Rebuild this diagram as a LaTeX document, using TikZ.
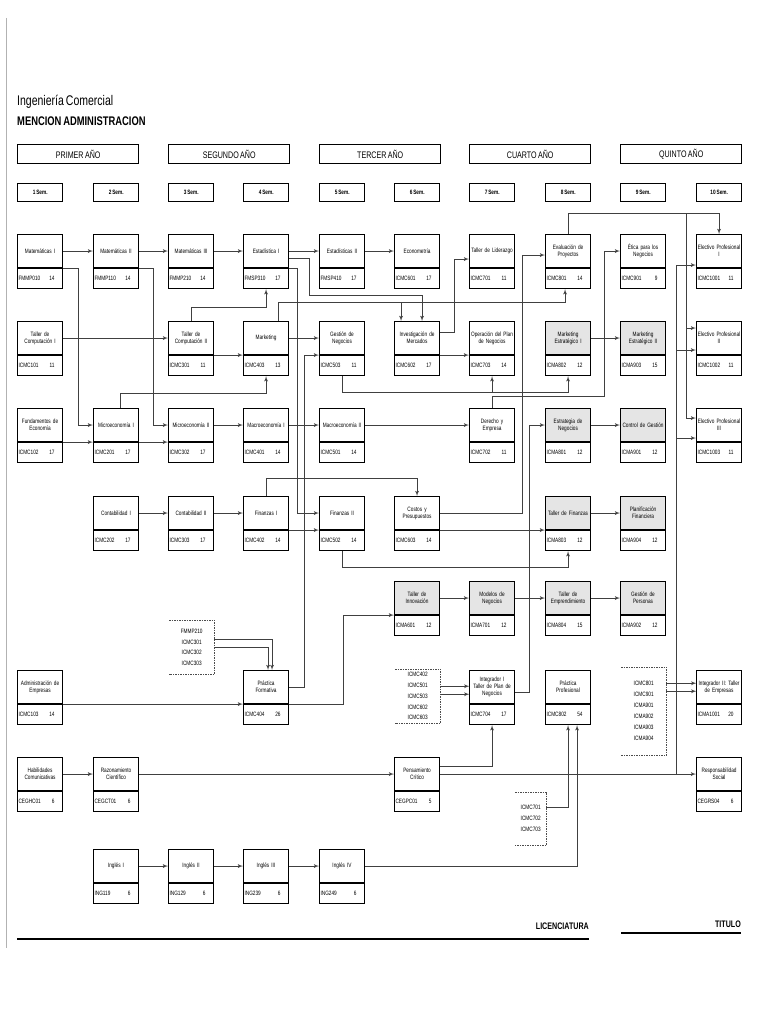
\documentclass[tikz,border=0pt]{standalone}
\usepackage{fontspec}
\setmainfont{Liberation Sans}
\newfontfamily\narrow[FakeStretch=0.75, WordSpace=0.7]{Liberation Sans}
\usepackage{tikz}
\usetikzlibrary{arrows, positioning}
\tikzstyle{ttl} = [rectangle, draw=black, line width=1.1pt, minimum width=45pt, minimum height=33pt, text width=43pt, inner sep=1pt, align=center, anchor=north west, font=\narrow\fontsize{6.3}{7.2}\selectfont]
\tikzstyle{cod} = [rectangle, draw=black, line width=1.1pt, minimum width=45pt, minimum height=20pt, inner sep=1pt, anchor=north, font=\narrow\fontsize{6.3}{7.2}\selectfont]
\tikzstyle{plist} = [rectangle, minimum width=45pt, minimum height=54pt, inner sep=1pt, align=center, anchor=north west, font=\narrow\fontsize{6.3}{10.5}\selectfont]
\tikzstyle{year} = [rectangle, draw=black, line width=1.4pt, minimum width=121pt, minimum height=19pt, inner sep=0pt, anchor=north west, font=\narrow\fontsize{9.5}{10}\selectfont]
\tikzstyle{sem} = [rectangle, draw=black, line width=1.4pt, minimum width=45pt, minimum height=18pt, inner sep=0pt, anchor=north west, font=\narrow\bfseries\fontsize{6.3}{7}\selectfont]
\tikzstyle{line} = [draw, -latex', black!75, line width=0.8pt]
\tikzstyle{brk} = [draw, black!70, line width=0.6pt, dash pattern=on 1.5pt off 1pt]
\newcommand{\asig}[7][white]{%
  \node [ttl, fill=#1] (#2) at (#3,#4) {#5};
  \node [cod] (#2c) at (#2.south) {\hbox to 43pt{#6\hfill#7\hspace{7pt}}};
}

\begin{document}
\begin{tikzpicture}[x=1pt, y=-1pt]
    \useasboundingbox (0,0) rectangle (768,1024);
    \draw [gray!60, line width=0.8pt] (6,18) -- (6,948);

    % Headings
    \node [anchor=base west, inner sep=0pt, font=\narrow\fontsize{14}{16}\selectfont] (career) at (17,106) {Ingeniería Comercial};
    \node [anchor=base west, inner sep=0pt, font=\narrow\bfseries\fontsize{12.5}{14}\selectfont] (mention) at (17,126) {MENCION ADMINISTRACION};
    \node [year] (yr1) at (17,144) {PRIMER AÑO};
    \node [year] (yr2) at (168,144) {SEGUNDO AÑO};
    \node [year] (yr3) at (319,144) {TERCER AÑO};
    \node [year] (yr4) at (469,144) {CUARTO AÑO};
    \node [year] (yr5) at (620,144) {QUINTO AÑO};
    \foreach \n/\x in {1/17, 2/93, 3/168, 4/243, 5/319, 6/394, 7/469, 8/545, 9/620, 10/696}
        \node [sem] (s\n) at (\x,183) {\n{} Sem.};

    % Courses
    \asig{mat1}{17}{234}{Matemáticas I}{FMMP010}{14}
    \asig{mat2}{93}{234}{Matemáticas II}{FMMP110}{14}
    \asig{mat3}{168}{234}{Matemáticas III}{FMMP210}{14}
    \asig{est1}{243}{234}{Estadística I}{FMSP310}{17}
    \asig{est2}{319}{234}{Estadísticas II}{FMSP410}{17}
    \asig{econ}{394}{234}{Econometría}{ICMC601}{17}
    \asig{lider}{469}{234}{Taller de Liderazgo}{ICMC701}{11}
    \asig{evalp}{545}{234}{Evaluación de\\Proyectos}{ICMC801}{14}
    \asig{etica}{620}{234}{Ética para los\\Negocios}{ICMC901}{9}
    \asig{elec1}{696}{234}{Electivo Profesional\\I}{ICMC1001}{11}

    \asig{tcomp1}{17}{321}{Taller de\\Computación I}{ICMC101}{11}
    \asig{tcomp2}{168}{321}{Taller de\\Computación II}{ICMC301}{11}
    \asig{mkt}{243}{321}{Marketing}{ICMC403}{13}
    \asig{gneg}{319}{321}{Gestión de\\Negocios}{ICMC503}{11}
    \asig{invm}{394}{321}{Investigación de\\Mercados}{ICMC602}{17}
    \asig{opn}{469}{321}{Operación del Plan\\de Negocios}{ICMC703}{14}
    \asig[gray!20]{mke1}{545}{321}{Marketing\\Estratégico I}{ICMA802}{12}
    \asig[gray!20]{mke2}{620}{321}{Marketing\\Estratégico II}{ICMA903}{15}
    \asig{elec2}{696}{321}{Electivo Profesional\\II}{ICMC1002}{11}

    \asig{fecon}{17}{408}{Fundamentos de\\Economía}{ICMC102}{17}
    \asig{micro1}{93}{408}{Microeconomía I}{ICMC201}{17}
    \asig{micro2}{168}{408}{Microeconomía II}{ICMC302}{17}
    \asig{macro1}{243}{408}{Macroeconomía I}{ICMC401}{14}
    \asig{macro2}{319}{408}{Macroeconomía II}{ICMC501}{14}
    \asig{dye}{469}{408}{Derecho y\\Empresa}{ICMC702}{11}
    \asig[gray!20]{estn}{545}{408}{Estrategia de\\Negocios}{ICMA801}{12}
    \asig[gray!20]{cges}{620}{408}{Control de Gestión}{ICMA901}{12}
    \asig{elec3}{696}{408}{Electivo Profesional\\III}{ICMC1003}{11}

    \asig{cont1}{93}{496}{Contabilidad I}{ICMC202}{17}
    \asig{cont2}{168}{496}{Contabilidad II}{ICMC303}{17}
    \asig{fin1}{243}{496}{Finanzas I}{ICMC402}{14}
    \asig{fin2}{319}{496}{Finanzas II}{ICMC502}{14}
    \asig{cyp}{394}{496}{Costos y\\Presupuestos}{ICMC603}{14}
    \asig[gray!20]{tfin}{545}{496}{Taller de Finanzas}{ICMA803}{12}
    \asig[gray!20]{pfin}{620}{496}{Planificación\\Financiera}{ICMA904}{12}

    \asig[gray!20]{tinn}{394}{581}{Taller de\\Innovación}{ICMA601}{12}
    \asig[gray!20]{mneg}{469}{581}{Modelos de\\Negocios}{ICMA701}{12}
    \asig[gray!20]{temp}{545}{581}{Taller de\\Emprendimiento}{ICMA804}{15}
    \asig[gray!20]{gper}{620}{581}{Gestión de\\Personas}{ICMA902}{12}

    \asig{adme}{17}{670}{Administración de\\Empresas}{ICMC103}{14}
    \asig{pform}{243}{670}{Práctica\\Formativa}{ICMC404}{26}
    \asig{int1}{469}{670}{Integrador I\\Taller de Plan de\\Negocios}{ICMC704}{17}
    \asig{pprof}{545}{670}{Práctica\\Profesional}{ICMC802}{54}
    \asig{int2}{696}{670}{Integrador II: Taller\\de Empresas}{ICMA1001}{20}

    \asig{habc}{17}{757}{Habilidades\\Comunicativas}{CEGHC01}{6}
    \asig{razc}{93}{757}{Razonamiento\\Científico}{CEGCT01}{6}
    \asig{pcrit}{394}{757}{Pensamiento\\Crítico}{CEGPC01}{5}
    \asig{rsoc}{696}{757}{Responsabilidad\\Social}{CEGRS04}{6}

    \asig{ing1}{93}{849}{Inglés I}{ING119}{6}
    \asig{ing2}{168}{849}{Inglés II}{ING129}{6}
    \asig{ing3}{243}{849}{Inglés III}{ING239}{6}
    \asig{ing4}{319}{849}{Inglés IV}{ING249}{6}

    % Prerequisite lists
    \node [plist] (plA) at (169,620) {FMMP210\\ICMC301\\ICMC302\\ICMC303};
    \node [plist, font=\narrow\fontsize{6.3}{10.8}\selectfont] (plB) at (395,669) {ICMC402\\ICMC501\\ICMC503\\ICMC602\\ICMC603};
    \node [plist, minimum height=88pt, font=\narrow\fontsize{6.3}{11}\selectfont] (plC) at (621,667) {ICMC801\\ICMC901\\ICMA901\\ICMA902\\ICMA903\\ICMA904};
    \node [plist, minimum width=31pt, minimum height=53pt, font=\narrow\fontsize{6.3}{11}\selectfont] (plD) at (515,792) {ICMC701\\ICMC702\\ICMC703};
    \foreach \p in {plA, plB, plC, plD}
        \path [brk] (\p.north west) -- (\p.north east) -- (\p.south east) -- (\p.south west);

    % Edges
    \path [line] (mat1) -- (mat2);
    \path [line] (mat2) -- (mat3);
    \path [line] (mat3) -- (est1);
    \path [line] (est1) -- (est2);
    \path [line] (est2) -- (econ);
    \path [line] (mat1.south east) -- ++(15,0) |- (micro1.west);
    \path [line] (mat2.south east) -- ++(14,0) |- (micro2.west);
    \path [line] (tcomp1) -- (tcomp2);
    \path [line] (tcomp2.north) -- ++(0,-14) -| (est1c.south);
    \path [line] (tcomp2.south east) -- (mkt.south west);
    \path [line] (mkt) -- (gneg);
    \path [line] ([xshift=4pt]micro1.north) -- ++(0,-15) -| (mktc.south);
    \path [line] ([yshift=-7pt]est1.east) -- ++(20,0) -- ++(0,37) -| ([xshift=5pt]invm.north);
    \path [line] (est1.south east) -- ++(8,0) |- (fin2.west);
    \path [line] ([xshift=12pt]mkt.north) -- ++(0,-19) -| ([xshift=-16pt]invm.north);
    \path [line] ([xshift=12pt]mkt.north) -- ++(0,-19) -| ([xshift=-3pt]evalpc.south);
    \path [line] ([yshift=6pt]invm.east) -- ++(14,0) |- ([yshift=-8pt]lider.west);
    \path [line] (invm.south east) -- (opn.south west);
    \path [line] (gnegc.south) -- ++(0,16) -| (opnc.south);
    \path [line] (gnegc.south) -- ++(0,16) -| (mke1c.south);
    \path [line] (mke1) -- (mke2);
    \path [line] (dye.north) -- ++(0,-12) -- ++(112,0) |- (etica.west);
    \path [line] (fecon.south east) -- (micro1.south west);
    \path [line] (micro1.south east) -- (micro2.south west);
    \path [line] (micro2) -- (macro1);
    \path [line] (macro1) -- (macro2);
    \path [line] (macro2) -- (dye);
    \path [line] (estn) -- (cges);
    \path [line] (cont1) -- (cont2);
    \path [line] (cont2) -- (fin1);
    \path [line] (fin1.south east) -- (fin2.south west);
    \path [line] (fin1.north) -- ++(0,-18) -| (cyp.north);
    \path [line] (cyp.east) -- ++(82,0) |- ([yshift=-4pt]evalp.west);
    \path [line] (cyp.south east) -- (tfin.south west);
    \path [line] (fin2c.south) -- ++(0,16) -| (tfinc.south);
    \path [line] (tfin) -- (pfin);
    \path [line] ([yshift=-5pt]int1.east) -- ++(14,0) |- (estn.west);
    \path [line] (tinn) -- (mneg);
    \path [line] (mneg) -- (temp);
    \path [line] (temp) -- (gper);
    \path [line] (adme.south east) -- (pform.south west);
    \path [line] (pform.south east) -- ++(54,0) |- (tinn.south west);
    \path [line] (pform.east) -- ++(15,0) |- (gneg.south west);
    \path [line] ([yshift=8pt]plA.east) -| ([xshift=6pt]pform.north);
    \path [line] (plA.east) -| ([xshift=2pt]pform.north);
    \path [line] ([yshift=10pt]plB.east) -- ++(29,0);
    \path [line] ([yshift=2pt]plB.east) -- ++(29,0);
    \path [line] ([yshift=28pt]plC.east) -- ++(30,0);
    \path [line] ([yshift=20pt]plC.east) -- ++(30,0);
    \path [line] ([yshift=11pt]plD.east) -| (pprofc.south);
    \path [line] (ing4.east) -| ([xshift=9pt]pprofc.south);
    \path [line] (habc) -- (razc);
    \path [line] (razc) -- (pcrit);
    \path [line] ([yshift=8pt]pcrit.east) -| (int1c.south);
    \path [line] (pcrit) -- (rsoc);
    \path [line] (pcrit.east) -- ++(236,0) |- ([yshift=-14pt]elec1.west);
    \path [line] (pcrit.east) -- ++(236,0) |- ([yshift=-12pt]elec2.west);
    \path [line] (pcrit.east) -- ++(236,0) |- ([yshift=-13pt]elec3.west);
    \path [line] (evalp.north) -- ++(0,-21) -| (elec1.north);
    \path [line] (evalp.north) -- ++(0,-21) -- ++(118,0) |- ([yshift=10pt]elec2.west);
    \path [line] (evalp.north) -- ++(0,-21) -- ++(118,0) |- ([yshift=7pt]elec3.west);
    \path [line] (ing1) -- (ing2);
    \path [line] (ing2) -- (ing3);
    \path [line] (ing3) -- (ing4);

    % Degrees
    \node [anchor=base east, inner sep=0pt, font=\narrow\bfseries\fontsize{9.5}{10}\selectfont] (lic) at (589,929) {LICENCIATURA};
    \node [anchor=base east, inner sep=0pt, font=\narrow\bfseries\fontsize{9.5}{10}\selectfont] (tit) at (741,927) {TITULO};
    \draw [line width=2pt] (17,939) -- (lic.south east |- 0,939);
    \draw [line width=2pt] (621,933) -- (tit.south east |- 0,933);
\end{tikzpicture}
\end{document}
